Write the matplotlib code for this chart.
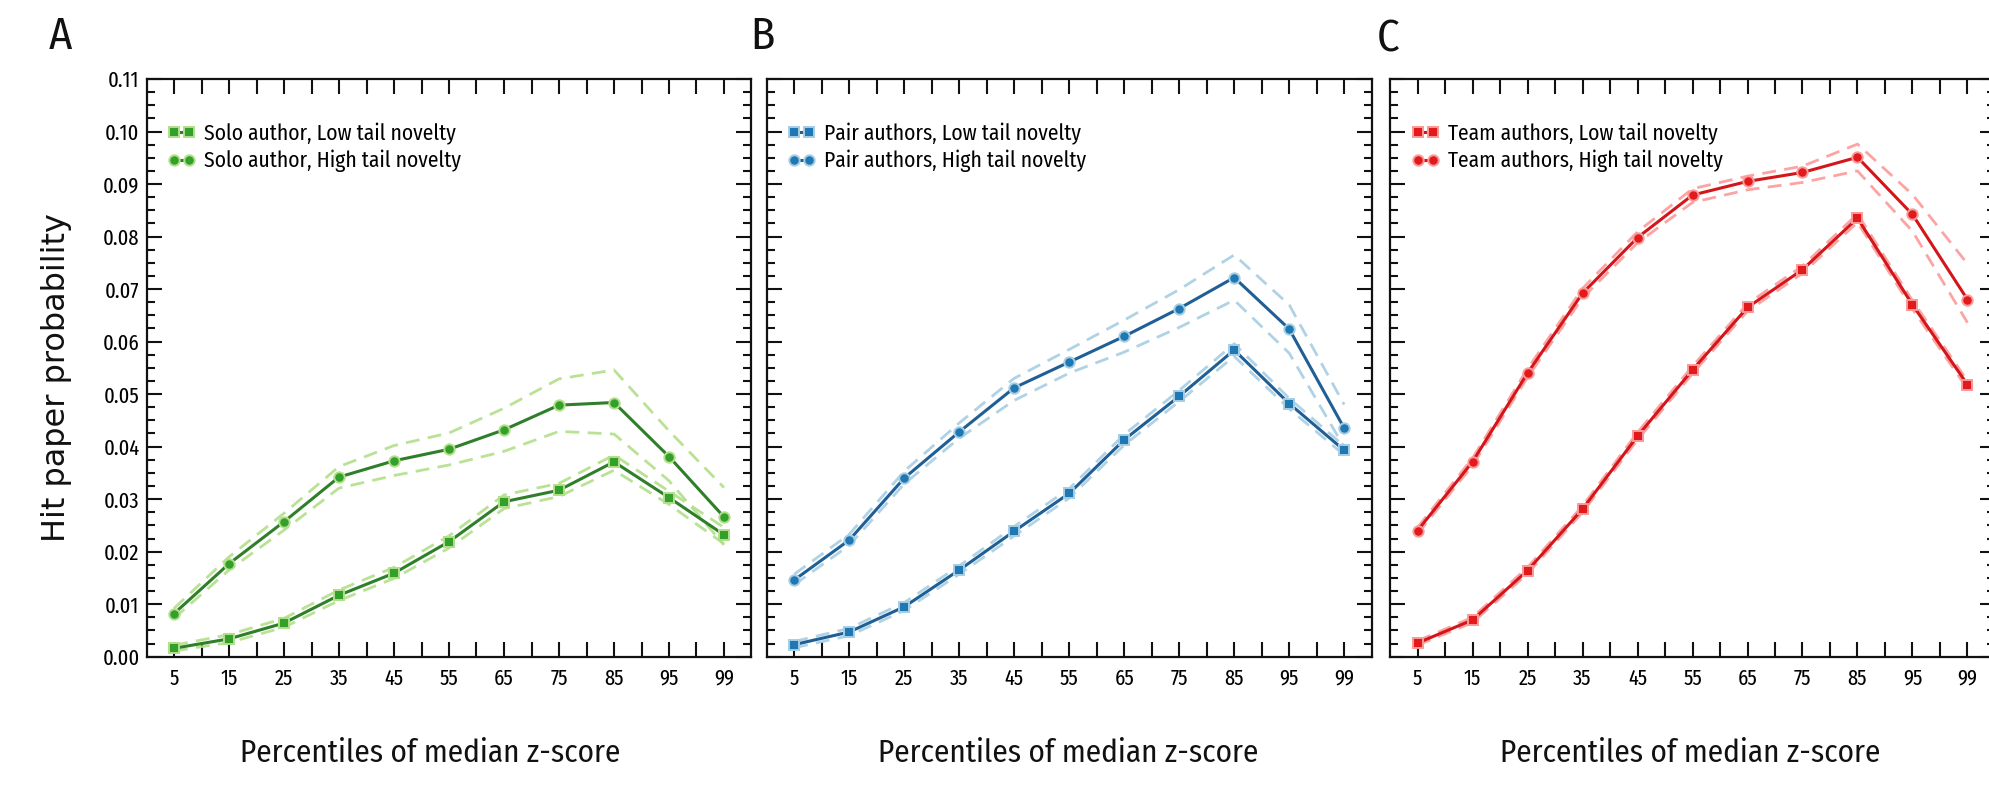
"""
Hit paper probability vs. percentiles of median z-score,
solo / pair / team authors, low vs. high tail novelty (mean + band).
"""
import matplotlib
matplotlib.use("Agg")
import matplotlib.pyplot as plt
from matplotlib.ticker import MultipleLocator, FixedLocator
import numpy as np

COND = ["Fira Sans Condensed", "Liberation Sans Narrow", "DejaVu Sans"]
XCOND = ["Fira Sans Extra Condensed", "Fira Sans Condensed", "DejaVu Sans"]

matplotlib.rcParams.update({
    "font.family": COND,
    "figure.dpi":  100,
    "savefig.dpi": 100,
})

# ── data ─────────────────────────────────────────────────────────────────────
percentiles = ["5", "15", "25", "35", "45", "55", "65", "75", "85", "95", "99"]

solo_low     = [0.0016, 0.0034, 0.0064, 0.0117, 0.0159, 0.0219, 0.0295, 0.0317, 0.0371, 0.0303, 0.0232]
solo_low_hi  = [0.0022, 0.0042, 0.0073, 0.0127, 0.0170, 0.0230, 0.0308, 0.0330, 0.0384, 0.0315, 0.0246]
solo_low_lo  = [0.0011, 0.0027, 0.0056, 0.0107, 0.0149, 0.0207, 0.0282, 0.0305, 0.0355, 0.0290, 0.0215]
solo_high    = [0.0082, 0.0177, 0.0257, 0.0342, 0.0373, 0.0395, 0.0432, 0.0479, 0.0484, 0.0381, 0.0266]
solo_high_hi = [0.0092, 0.0190, 0.0273, 0.0362, 0.0402, 0.0426, 0.0473, 0.0529, 0.0546, 0.0430, 0.0322]
solo_high_lo = [0.0073, 0.0165, 0.0241, 0.0321, 0.0345, 0.0365, 0.0391, 0.0429, 0.0424, 0.0335, 0.0213]

pair_low     = [0.0023, 0.0047, 0.0095, 0.0165, 0.0239, 0.0311, 0.0413, 0.0496, 0.0584, 0.0482, 0.0393]
pair_low_hi  = [0.0029, 0.0054, 0.0103, 0.0173, 0.0248, 0.0320, 0.0423, 0.0507, 0.0596, 0.0492, 0.0401]
pair_low_lo  = [0.0017, 0.0040, 0.0088, 0.0157, 0.0230, 0.0302, 0.0403, 0.0486, 0.0572, 0.0472, 0.0384]
pair_high    = [0.0146, 0.0222, 0.0340, 0.0428, 0.0512, 0.0561, 0.0610, 0.0663, 0.0722, 0.0624, 0.0435]
pair_high_hi = [0.0157, 0.0233, 0.0353, 0.0445, 0.0530, 0.0585, 0.0641, 0.0699, 0.0765, 0.0670, 0.0480]
pair_high_lo = [0.0137, 0.0212, 0.0329, 0.0416, 0.0488, 0.0540, 0.0580, 0.0627, 0.0679, 0.0578, 0.0399]

team_low     = [0.0026, 0.0070, 0.0164, 0.0281, 0.0420, 0.0546, 0.0665, 0.0737, 0.0835, 0.0670, 0.0518]
team_low_hi  = [0.0030, 0.0075, 0.0170, 0.0287, 0.0427, 0.0553, 0.0672, 0.0744, 0.0843, 0.0678, 0.0525]
team_low_lo  = [0.0022, 0.0065, 0.0158, 0.0275, 0.0413, 0.0539, 0.0658, 0.0730, 0.0827, 0.0662, 0.0510]
team_high    = [0.0240, 0.0371, 0.0540, 0.0692, 0.0798, 0.0879, 0.0905, 0.0922, 0.0951, 0.0842, 0.0680]
team_high_hi = [0.0246, 0.0378, 0.0548, 0.0701, 0.0809, 0.0891, 0.0915, 0.0934, 0.0976, 0.0880, 0.0748]
team_high_lo = [0.0234, 0.0364, 0.0532, 0.0683, 0.0788, 0.0865, 0.0889, 0.0903, 0.0925, 0.0810, 0.0636]

PANELS = [
    # letter, who, series, dark, marker, light
    ("A", "Solo author",
     (solo_low, solo_low_hi, solo_low_lo, solo_high, solo_high_hi, solo_high_lo),
     "#2f7f2a", "#33a02c", "#b2df8a"),
    ("B", "Pair authors",
     (pair_low, pair_low_hi, pair_low_lo, pair_high, pair_high_hi, pair_high_lo),
     "#1f5f96", "#1f78b4", "#a6cee3"),
    ("C", "Team authors",
     (team_low, team_low_hi, team_low_lo, team_high, team_high_hi, team_high_lo),
     "#d4161a", "#e31a1c", "#fb9a99"),
]

# axes boxes in pixels (left, width) — same vertical extent for all
W, H = 1990, 809
AX_LEFT = [146.5, 766.7, 1390.0]
AX_W    = 605.0
AX_TOP, AX_BOT = 79.0, 656.7
LETTER_XY = [(60, 37), (762, 37), (1388, 40)]
XLABEL_X  = [430, 1068, 1690]


def draw_panel(ax, who, series, dark, mcol, light, show_ylabels):
    low, low_hi, low_lo, high, high_hi, high_lo = series
    x = np.arange(len(percentiles))

    # band edges (dashed, light)
    for arr in (low_hi, low_lo, high_hi, high_lo):
        ax.plot(x, arr, color=light, lw=2.0, dashes=(5, 3), alpha=0.9, zorder=2)

    ax.plot(x, low, "-s", color=dark, lw=2.2, ms=7, mfc=mcol, mec=light, mew=1.4,
            label=f"{who}, Low tail novelty", zorder=3)
    ax.plot(x, high, "-o", color=dark, lw=2.2, ms=7.5, mfc=mcol, mec=light, mew=1.4,
            label=f"{who}, High tail novelty", zorder=3)

    ax.set_xlim(-0.5, len(percentiles) - 0.5)
    ax.set_ylim(0, 0.11)
    ax.xaxis.set_major_locator(FixedLocator(x))
    ax.xaxis.set_minor_locator(FixedLocator(x[:-1] + 0.5))
    ax.set_xticklabels(percentiles)
    ax.yaxis.set_major_locator(MultipleLocator(0.01))
    ax.yaxis.set_minor_locator(MultipleLocator(0.0025))
    ax.yaxis.set_major_formatter(matplotlib.ticker.FormatStrFormatter("%.2f"))

    ax.tick_params(which="both", direction="in", top=True, right=True,
                   color="#111111", width=1.5, labelfontfamily=XCOND)
    ax.tick_params(axis="x", which="both", length=11, pad=8, labelsize=16)
    ax.tick_params(axis="y", which="major", length=11, pad=5, labelsize=16,
                   labelleft=show_ylabels)
    ax.tick_params(axis="y", which="minor", length=6)
    for sp in ax.spines.values():
        sp.set_linewidth(1.6)
        sp.set_color("#111111")

    ax.legend(loc="upper left", bbox_to_anchor=(0.035, 0.925), frameon=False,
              numpoints=2, handlelength=1.3, handletextpad=0.4, borderpad=0,
              borderaxespad=0, labelspacing=0.25, prop={"family": COND, "size": 15.5})


def main():
    fig = plt.figure(figsize=(W / 100, H / 100))
    for i, (letter, who, series, dark, mcol, light) in enumerate(PANELS):
        ax = fig.add_axes([AX_LEFT[i] / W, 1 - AX_BOT / H,
                           AX_W / W, (AX_BOT - AX_TOP) / H])
        draw_panel(ax, who, series, dark, mcol, light, show_ylabels=(i == 0))

        lx, ly = LETTER_XY[i]
        fig.text(lx / W, 1 - ly / H, letter, ha="center", va="center",
                 fontsize=32, family=COND, color="#111111")
        fig.text(XLABEL_X[i] / W, 1 - 753 / H, "Percentiles of median z-score",
                 ha="center", va="center", fontsize=22.5, family=COND, color="#111111")

    fig.text(57 / W, 1 - 378 / H, "Hit paper probability", rotation=90,
             ha="center", va="center", fontsize=23, family="DejaVu Sans",
             color="#111111")

    fig.savefig("out.png", dpi=100)
    plt.close(fig)


if __name__ == "__main__":
    main()
